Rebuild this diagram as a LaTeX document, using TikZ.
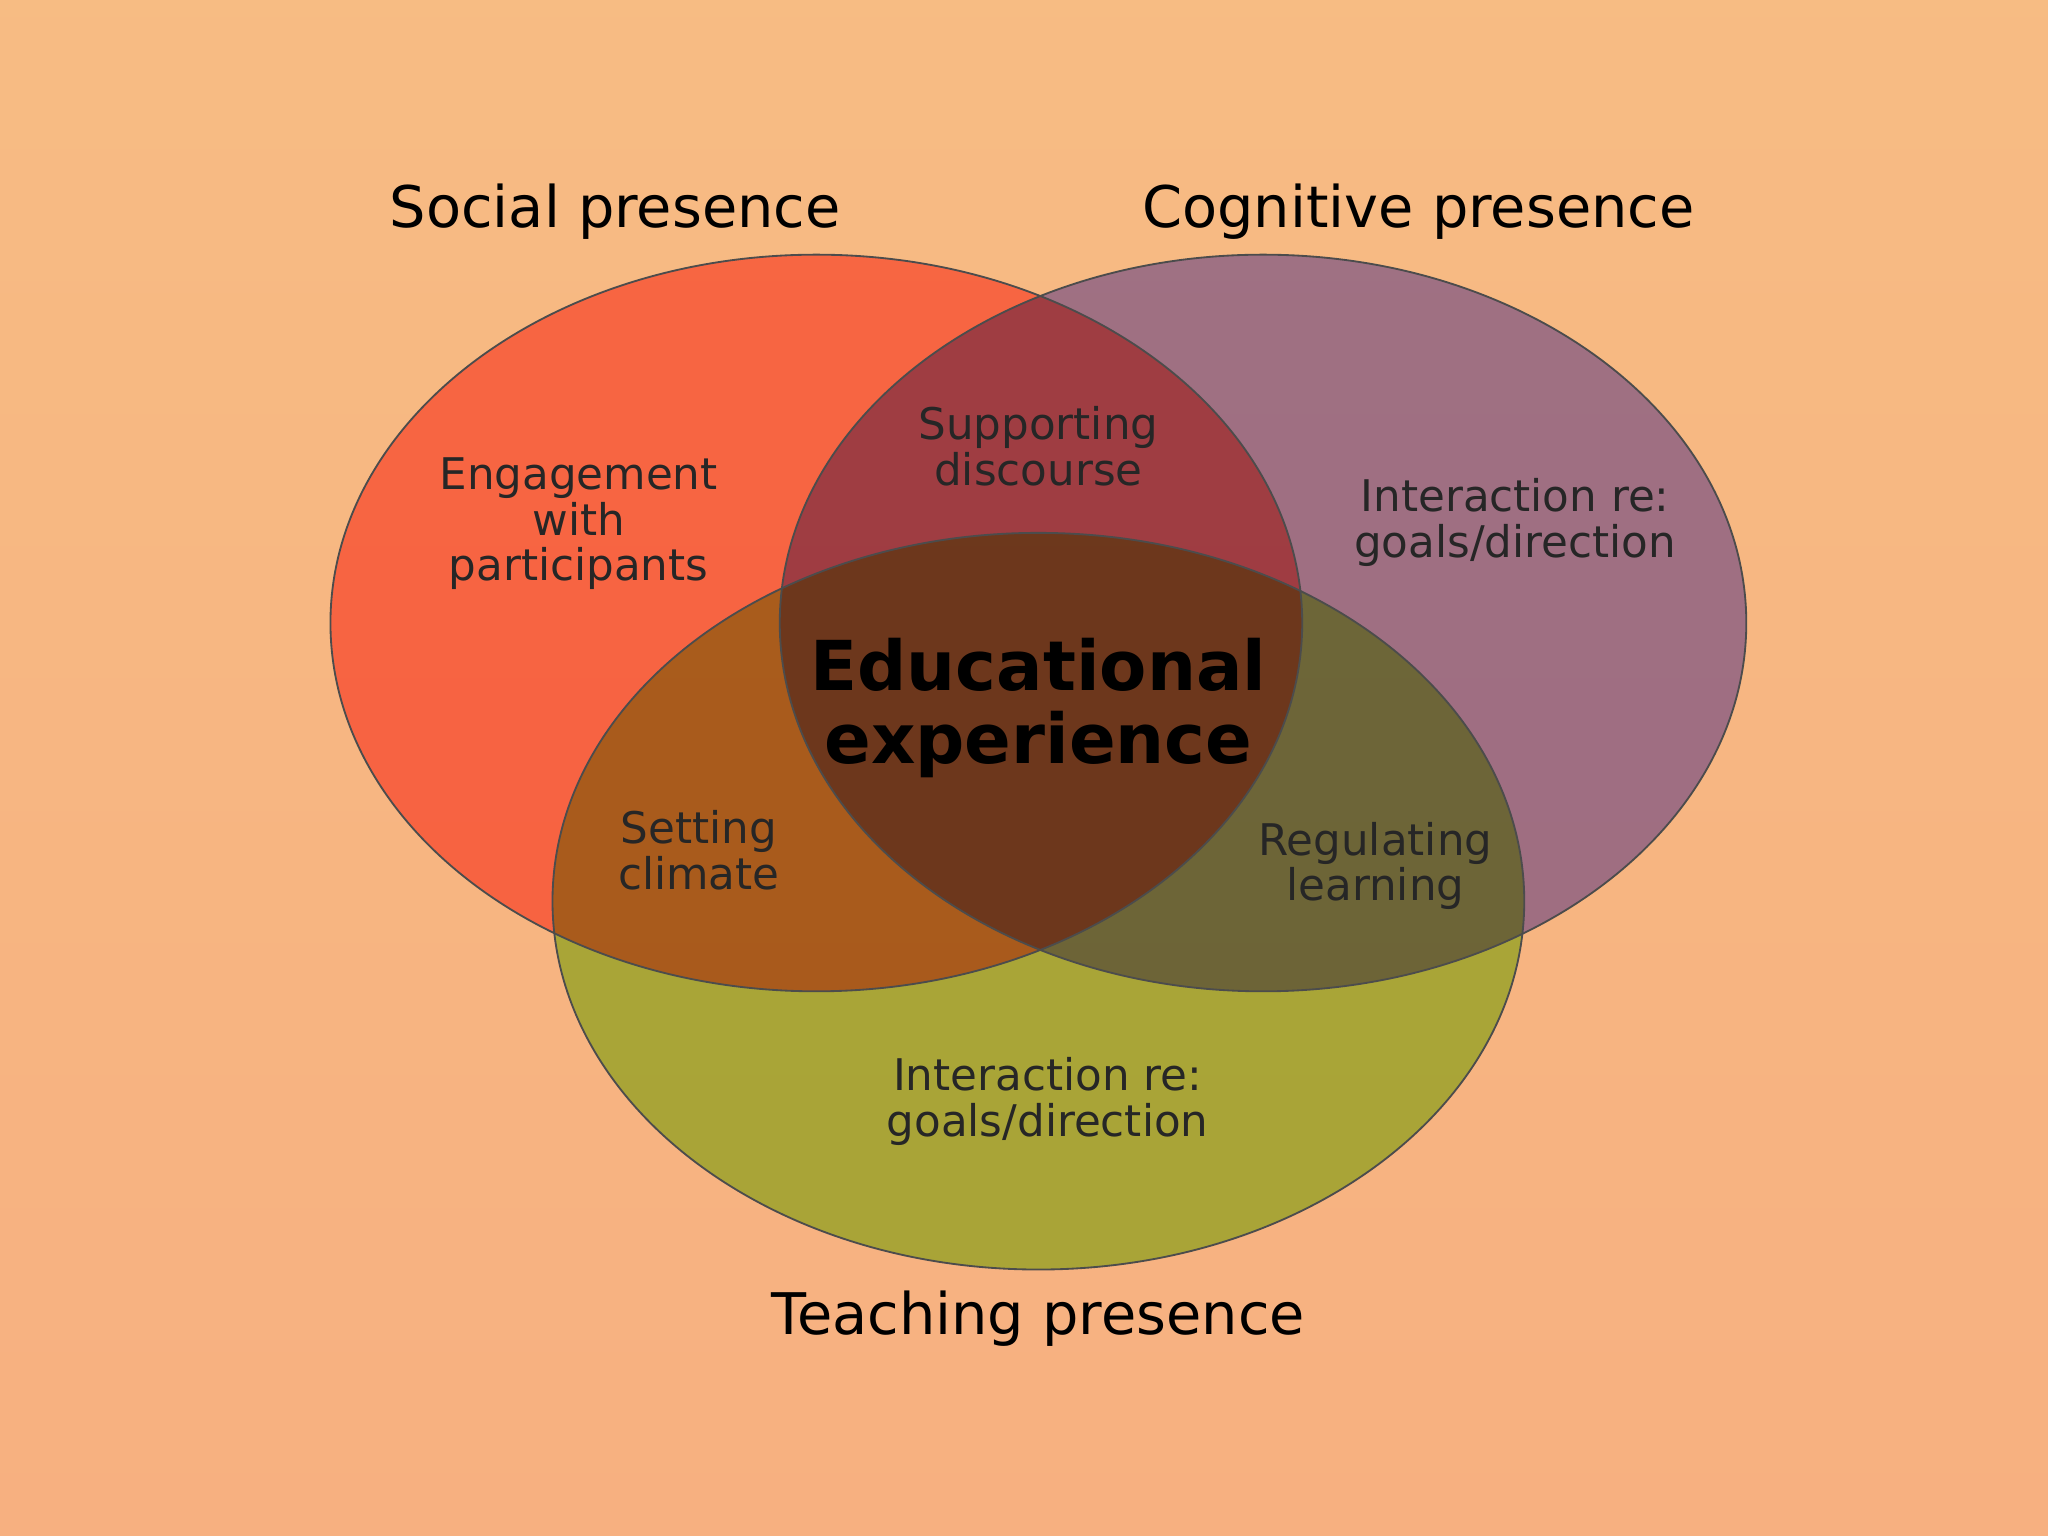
\documentclass[tikz,border=0pt]{standalone}
\usepackage{fontspec}
\setmainfont{DejaVu Sans}
\pgfdeclareverticalshading{sky}{15.68cm}{
  rgb(0cm)=(0.99,0.89,0.83);
  rgb(2.5cm)=(0.98,0.80,0.62);
  rgb(4.6cm)=(0.97,0.68,0.50);
  rgb(7.7cm)=(0.97,0.76,0.52);
  rgb(9.4cm)=(0.99,0.90,0.88);
  rgb(10.2cm)=(0.99,0.91,0.90);
  rgb(11.76cm)=(0.97,0.93,0.80)}
\begin{document}
\begin{tikzpicture}[font=\fontsize{9.5}{10}\selectfont]
  \tikzset{
    ring/.style={
      blend mode=multiply},
    title/.style={
      font=\fontsize{12.5}{13}\selectfont,
      text centered},
    blank/.style={
      align=center,
      text=black!85,
      inner sep=0pt}}

  % background
  \shade[shading=sky] (0,0) rectangle (15.68,11.76);
  \useasboundingbox (0,0) rectangle (15.68,11.76);

  % circles
  \definecolor{soc}{RGB}{255,140,130}
  \definecolor{cog}{RGB}{165,155,255}
  \definecolor{tea}{RGB}{175,235,110}
  \fill[ring, soc] (6.25,6.99) ellipse (3.72 and 2.82);
  \fill[ring, cog] (9.67,6.99) ellipse (3.70 and 2.82);
  \fill[ring, tea] (7.95,4.86) ellipse (3.72 and 2.82);
  \draw[black!70] (6.25,6.99) ellipse (3.72 and 2.82);
  \draw[black!70] (9.67,6.99) ellipse (3.70 and 2.82);
  \draw[black!70] (7.95,4.86) ellipse (3.72 and 2.82);

  % titles
  \node[title] (social) at (4.71,10.14) {Social presence};
  \node[title] (cogn) at (10.86,10.14) {Cognitive presence};
  \node[title] (teach) at (7.95,1.66) {Teaching presence};

  % regions
  \node[blank] (engage) at (4.43,7.75) {Engagement\\with\\participants};
  \node[blank] (discourse) at (7.95,8.34) {Supporting\\discourse};
  \node[blank] (goalsc) at (11.6,7.76) {Interaction re:\\goals/direction};
  \node[blank] (climate) at (5.35,5.25) {Setting\\climate};
  \node[blank] (regulate) at (10.53,5.13) {Regulating\\learning};
  \node[blank] (goalst) at (8.02,3.33) {Interaction re:\\goals/direction};
  \node[blank, font=\fontsize{15}{16}\selectfont\bfseries, text=black]
    (edu) at (7.95,6.34) {Educational\\experience};
\end{tikzpicture}
\end{document}
